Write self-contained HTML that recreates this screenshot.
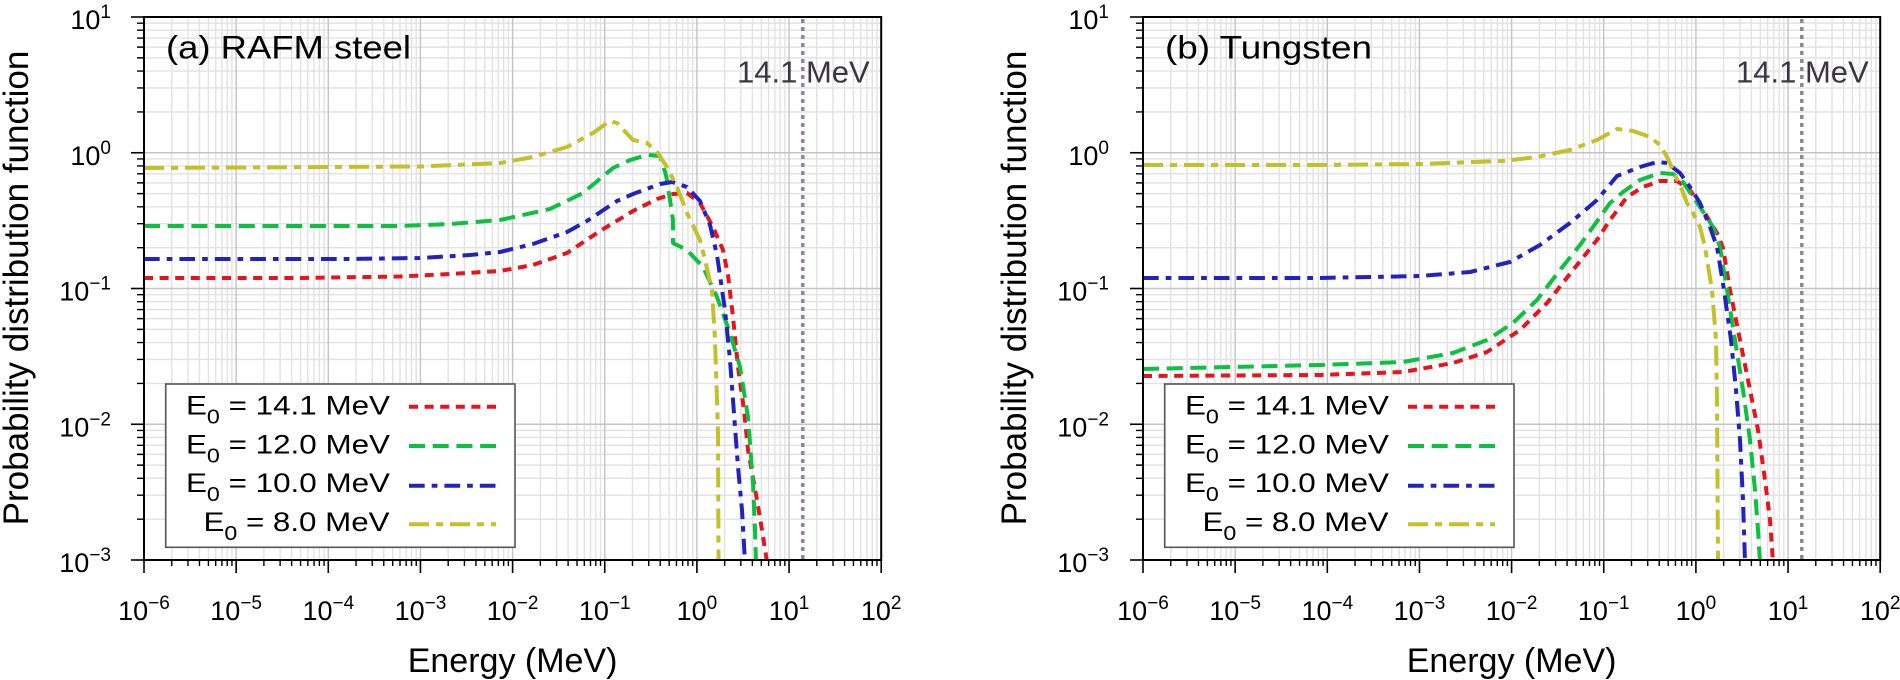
<!DOCTYPE html>
<html><head><meta charset="utf-8"><style>html,body{margin:0;padding:0;background:#fff;}svg{display:block;}</style></head>
<body>
<svg width="1900" height="680" viewBox="0 0 1900 680" xmlns="http://www.w3.org/2000/svg" font-family="'Liberation Sans', Arial, sans-serif">
<defs>
  <g id="xminor"><path d="M27.74,17V560M43.97,17V560M55.48,17V560M64.41,17V560M71.71,17V560M77.88,17V560M83.22,17V560M87.93,17V560" stroke="#e2e2e2" stroke-width="1.4" fill="none"/></g>
  <g id="yminor"><path d="M144,-40.86H881.2M144,-64.77H881.2M144,-81.73H881.2M144,-94.88H881.2M144,-105.63H881.2M144,-114.72H881.2M144,-122.6H881.2M144,-129.54H881.2" stroke="#e2e2e2" stroke-width="1.4" fill="none"/></g>
  <g id="xtick"><path d="M0,560V573" stroke="#000" stroke-width="1.6"/><path d="M27.74,560V566M43.97,560V566M55.48,560V566M64.41,560V566M71.71,560V566M77.88,560V566M83.22,560V566M87.93,560V566" stroke="#000" stroke-width="1.4"/></g>
  <g id="ytick"><path d="M131,0H144" stroke="#000" stroke-width="1.6"/><path d="M137,-40.86H144M137,-64.77H144M137,-81.73H144M137,-94.88H144M137,-105.63H144M137,-114.72H144M137,-122.6H144M137,-129.54H144" stroke="#000" stroke-width="1.4"/></g>
  <g id="pbg">
    <use href="#xminor" x="144"/><use href="#xminor" x="236.15"/><use href="#xminor" x="328.3"/><use href="#xminor" x="420.45"/>
    <use href="#xminor" x="512.6"/><use href="#xminor" x="604.75"/><use href="#xminor" x="696.9"/><use href="#xminor" x="789.05"/>
    <use href="#yminor" y="560"/><use href="#yminor" y="424.25"/><use href="#yminor" y="288.5"/><use href="#yminor" y="152.75"/>
    <path d="M236.15,17V560M328.3,17V560M420.45,17V560M512.6,17V560M604.75,17V560M696.9,17V560M789.05,17V560M144,152.75H881.2M144,288.5H881.2M144,424.25H881.2" stroke="#c4c4c4" stroke-width="1.4" fill="none"/>
    <rect x="165.7" y="384" width="349.3" height="163.3" fill="#fff" stroke="#555" stroke-width="1.6"/>
    <path d="M409,406.7H496" stroke="#e8141c" stroke-width="4" stroke-dasharray="9 6.6"/>
    <path d="M409,446H496" stroke="#0cc040" stroke-width="4" stroke-dasharray="16 7.7"/>
    <path d="M409,485.7H496" stroke="#2222c0" stroke-width="4" stroke-dasharray="15.7 7 5.7 7"/>
    <path d="M409,524.3H496" stroke="#c4c02a" stroke-width="4" stroke-dasharray="20 7 7 7"/>
    <path d="M802.8,19V560" stroke="#8e82a6" stroke-width="3.5" stroke-dasharray="4 4"/>
  </g>
  <g id="pframe">
    <use href="#xtick" x="144"/><use href="#xtick" x="236.15"/><use href="#xtick" x="328.3"/><use href="#xtick" x="420.45"/>
    <use href="#xtick" x="512.6"/><use href="#xtick" x="604.75"/><use href="#xtick" x="696.9"/><use href="#xtick" x="789.05"/>
    <path d="M881.2,560V573" stroke="#000" stroke-width="1.6"/>
    <use href="#ytick" y="560"/><use href="#ytick" y="424.25"/><use href="#ytick" y="288.5"/><use href="#ytick" y="152.75"/>
    <path d="M131,17H144" stroke="#000" stroke-width="1.6"/>
    <rect x="144" y="17" width="737.2" height="543" fill="none" stroke="#000" stroke-width="2"/>
  </g>
  <clipPath id="c1"><rect x="144" y="17" width="737.2" height="543"/></clipPath>
  <clipPath id="c2"><rect x="1143" y="17" width="737.2" height="543"/></clipPath>
</defs>
<rect width="1900" height="680" fill="#fff"/>

<use href="#pbg"/>
<use href="#pbg" x="999"/>

<!-- Left panel curves -->
<g clip-path="url(#c1)" fill="none" stroke-width="4" stroke-linejoin="round">
  <path stroke="#e8141c" stroke-dasharray="9 6.6" d="M144,278 L300,278 L400,276.5 L450,274 L500,271 L533,265 L567,253 L600,231 L633,211 L657,199 L673,194 L687,193 L700,203 L713,227 L723,250 L728,275 L733,317 L738,367 L744,410 L748,450 L757,500 L762,530 L767,562"/>
  <path stroke="#0cc040" stroke-dasharray="16 7.7" d="M144,226 L400,226 L450,224 L500,220 L550,209 L583,193 L613,168 L630,160 L647,155 L660,156 L666,175 L670,200 L673,220 L673,243 L687,250 L703,267 L717,297 L730,333 L740,367 L748,417 L753,483 L755,530 L756,562"/>
  <path stroke="#2222c0" stroke-dasharray="15.7 7 5.7 7" d="M144,259 L350,259 L420,258 L470,255 L500,252 L533,244 L567,232 L587,221 L617,201 L633,194 L660,184 L672,182 L687,187 L700,201 L710,225 L717,255 L725,310 L730,360 L733,400 L738,467 L742,510 L745,562"/>
  <path stroke="#c4c02a" stroke-dasharray="20 7 7 7" d="M144,168 L420,166.5 L500,163 L533,157 L567,147 L593,133 L610,121 L617,123 L633,140 L647,143 L657,152 L667,167 L677,187 L687,213 L700,240 L705,260 L712,290 L715,340 L717,400 L718,433 L718.5,562"/>
</g>

<!-- Right panel curves -->
<g clip-path="url(#c2)" fill="none" stroke-width="4" stroke-linejoin="round">
  <path stroke="#e8141c" stroke-dasharray="9 6.6" d="M1143,376 L1320,375 L1403,372 L1453,363 L1487,352 L1520,330 L1547,303 L1573,270 L1597,240 L1610,220 L1627,197 L1643,187 L1660,181 L1677,181 L1690,190 L1703,210 L1717,233 L1723,248 L1730,290 L1740,340 L1750,390 L1758,430 L1765,480 L1770,520 L1773,562"/>
  <path stroke="#0cc040" stroke-dasharray="16 7.7" d="M1143,369 L1320,365 L1403,362 L1453,353 L1487,340 L1513,323 L1537,300 L1560,270 L1580,245 L1593,227 L1610,203 L1623,192 L1640,180 L1660,173 L1673,174 L1683,182 L1700,207 L1713,227 L1720,247 L1727,290 L1735,340 L1743,390 L1750,440 L1755,490 L1758,530 L1760,562"/>
  <path stroke="#2222c0" stroke-dasharray="15.7 7 5.7 7" d="M1143,278 L1320,278 L1420,276 L1470,272 L1510,262 L1540,245 L1570,223 L1597,200 L1617,176 L1640,167 L1657,162 L1667,163 L1680,173 L1690,187 L1700,203 L1710,227 L1717,247 L1724,290 L1731,340 L1736,390 L1740,440 L1743,500 L1745,562"/>
  <path stroke="#c4c02a" stroke-dasharray="20 7 7 7" d="M1143,165 L1320,165 L1420,164 L1503,161 L1537,157 L1570,150 L1597,140 L1617,129 L1633,131 L1650,137 L1660,145 L1667,157 L1673,170 L1682,190 L1687,203 L1693,213 L1700,227 L1705,247 L1712,290 L1716,340 L1717,400 L1718,562"/>
</g>

<use href="#pframe"/>
<use href="#pframe" x="999"/>

<!-- Left panel texts -->
<g fill="#000">
  <text x="166" y="58.5" font-size="32" textLength="245" lengthAdjust="spacingAndGlyphs">(a) RAFM steel</text>
  <text x="737" y="82.3" font-size="31" fill="#3a3545">14.1 MeV</text>
  <g font-size="27">
    <text x="186" y="414.3" textLength="204" lengthAdjust="spacingAndGlyphs">E<tspan font-size="20" dy="9">0</tspan><tspan dy="-9"> = 14.1 MeV</tspan></text>
    <text x="186" y="453.3" textLength="204" lengthAdjust="spacingAndGlyphs">E<tspan font-size="20" dy="9">0</tspan><tspan dy="-9"> = 12.0 MeV</tspan></text>
    <text x="186" y="492" textLength="204" lengthAdjust="spacingAndGlyphs">E<tspan font-size="20" dy="9">0</tspan><tspan dy="-9"> = 10.0 MeV</tspan></text>
    <text x="203.5" y="531" textLength="186" lengthAdjust="spacingAndGlyphs">E<tspan font-size="20" dy="9">0</tspan><tspan dy="-9"> = 8.0 MeV</tspan></text>
  </g>
  <g font-size="27" text-anchor="middle">
    <text x="144" y="620">10<tspan font-size="19" dy="-11">−6</tspan></text>
    <text x="236.15" y="620">10<tspan font-size="19" dy="-11">−5</tspan></text>
    <text x="328.3" y="620">10<tspan font-size="19" dy="-11">−4</tspan></text>
    <text x="420.45" y="620">10<tspan font-size="19" dy="-11">−3</tspan></text>
    <text x="512.6" y="620">10<tspan font-size="19" dy="-11">−2</tspan></text>
    <text x="604.75" y="620">10<tspan font-size="19" dy="-11">−1</tspan></text>
    <text x="696.9" y="620">10<tspan font-size="19" dy="-11">0</tspan></text>
    <text x="789.05" y="620">10<tspan font-size="19" dy="-11">1</tspan></text>
    <text x="881.2" y="620">10<tspan font-size="19" dy="-11">2</tspan></text>
  </g>
  <g font-size="27" text-anchor="end">
    <text x="111" y="29">10<tspan font-size="19" dy="-11">1</tspan></text>
    <text x="111" y="164.75">10<tspan font-size="19" dy="-11">0</tspan></text>
    <text x="111" y="300.5">10<tspan font-size="19" dy="-11">−1</tspan></text>
    <text x="111" y="436.25">10<tspan font-size="19" dy="-11">−2</tspan></text>
    <text x="111" y="572">10<tspan font-size="19" dy="-11">−3</tspan></text>
  </g>
  <text x="512.6" y="672" font-size="34" text-anchor="middle">Energy (MeV)</text>
  <text transform="translate(28,288) rotate(-90)" font-size="35" text-anchor="middle">Probability distribution function</text>
</g>

<!-- Right panel texts -->
<g fill="#000">
  <text x="1165" y="58.5" font-size="32" textLength="207" lengthAdjust="spacingAndGlyphs">(b) Tungsten</text>
  <text x="1736" y="82.3" font-size="31" fill="#3a3545">14.1 MeV</text>
  <g font-size="27">
    <text x="1185" y="414.3" textLength="204" lengthAdjust="spacingAndGlyphs">E<tspan font-size="20" dy="9">0</tspan><tspan dy="-9"> = 14.1 MeV</tspan></text>
    <text x="1185" y="453.3" textLength="204" lengthAdjust="spacingAndGlyphs">E<tspan font-size="20" dy="9">0</tspan><tspan dy="-9"> = 12.0 MeV</tspan></text>
    <text x="1185" y="492" textLength="204" lengthAdjust="spacingAndGlyphs">E<tspan font-size="20" dy="9">0</tspan><tspan dy="-9"> = 10.0 MeV</tspan></text>
    <text x="1202.5" y="531" textLength="186" lengthAdjust="spacingAndGlyphs">E<tspan font-size="20" dy="9">0</tspan><tspan dy="-9"> = 8.0 MeV</tspan></text>
  </g>
  <g font-size="27" text-anchor="middle">
    <text x="1143" y="620">10<tspan font-size="19" dy="-11">−6</tspan></text>
    <text x="1235.15" y="620">10<tspan font-size="19" dy="-11">−5</tspan></text>
    <text x="1327.3" y="620">10<tspan font-size="19" dy="-11">−4</tspan></text>
    <text x="1419.45" y="620">10<tspan font-size="19" dy="-11">−3</tspan></text>
    <text x="1511.6" y="620">10<tspan font-size="19" dy="-11">−2</tspan></text>
    <text x="1603.75" y="620">10<tspan font-size="19" dy="-11">−1</tspan></text>
    <text x="1695.9" y="620">10<tspan font-size="19" dy="-11">0</tspan></text>
    <text x="1788.05" y="620">10<tspan font-size="19" dy="-11">1</tspan></text>
    <text x="1880.2" y="620">10<tspan font-size="19" dy="-11">2</tspan></text>
  </g>
  <g font-size="27" text-anchor="end">
    <text x="1109" y="29">10<tspan font-size="19" dy="-11">1</tspan></text>
    <text x="1109" y="164.75">10<tspan font-size="19" dy="-11">0</tspan></text>
    <text x="1109" y="300.5">10<tspan font-size="19" dy="-11">−1</tspan></text>
    <text x="1109" y="436.25">10<tspan font-size="19" dy="-11">−2</tspan></text>
    <text x="1109" y="572">10<tspan font-size="19" dy="-11">−3</tspan></text>
  </g>
  <text x="1511.6" y="672" font-size="34" text-anchor="middle">Energy (MeV)</text>
  <text transform="translate(1026,288) rotate(-90)" font-size="35" text-anchor="middle">Probability distribution function</text>
</g>
</svg>
</body></html>
